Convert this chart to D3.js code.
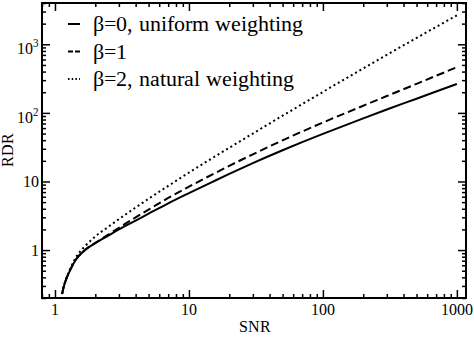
<!DOCTYPE html>
<html>
<head>
<meta charset="utf-8">
<script src="https://cdn.jsdelivr.net/npm/d3@7"></script>
<style>
  @font-face {
    font-family: "PlotSerif";
    src: local("Liberation Serif"), local("LiberationSerif"), local("Liberation Serif Regular"),
         local("LiberationSerif-Regular"), local("Times New Roman");
  }
  body { margin: 0; }
  svg text { font-family: "PlotSerif", "Liberation Serif", "Times New Roman" !important; }
</style>
</head>
<body>
<script>
// values
const snr = [1.13, 1.15, 1.2, 1.3, 1.4, 1.5, 1.7, 2, 2.5, 3, 4, 5, 7, 10, 15, 20, 30, 50, 70, 100, 200, 300, 500, 700, 1000];
const rdrUniform = [0.229, 0.269, 0.355, 0.513, 0.676, 0.813, 1.02, 1.26, 1.62, 2.0, 2.69, 3.39, 4.79, 6.76, 9.89, 12.9, 18.5, 28.5, 37.4, 49.4, 83.2, 112, 161, 205, 264];
const rdrBeta1 = [0.229, 0.269, 0.355, 0.513, 0.676, 0.813, 1.03, 1.27, 1.68, 2.11, 2.99, 3.89, 5.75, 8.41, 12.7, 16.9, 24.9, 39.8, 53.5, 72.3, 127, 176, 265, 348, 463];
const rdrNatural = [0.229, 0.272, 0.363, 0.537, 0.724, 0.891, 1.17, 1.58, 2.18, 2.82, 4.17, 5.60, 8.61, 13.5, 22.0, 31.0, 50.0, 91.0, 134, 202, 446, 702, 1236, 1791, 2642];

const seriesNames = ["\u03b2=0, uniform weighting", "\u03b2=1", "\u03b2=2, natural weighting"];
const xMajor = [1, 10, 100, 1000];
const xTickLabels = ["1", "10", "100", "1000"];
const yMajor = [1, 10, 100, 1000];
const yTickLabels = [["1", ""], ["10", ""], ["10", "2"], ["10", "3"]];

const W = 474, H = 339;
const margin = { top: 3, right: 8, bottom: 41, left: 42 };
const width = W - margin.left - margin.right;
const height = H - margin.top - margin.bottom;

const svg = d3.select("body").append("svg")
  .attr("width", W).attr("height", H)
  .attr("font-family", "Liberation Serif");
const g = svg.append("g")
  .attr("transform", "translate(" + margin.left + "," + margin.top + ")");

const x = d3.scaleLog().domain([0.8, 1170]).range([0, width]);
const y = d3.scaleLog().domain([0.2, 4000]).range([height, 0]);

const xMinor = x.ticks().filter(v => !xMajor.includes(v));
const yMinor = y.ticks().filter(v => !yMajor.includes(v));

function styleAxis(sel) {
  sel.select(".domain").remove();
  sel.selectAll("line").attr("stroke", "#000").attr("stroke-width", 1.5);
  sel.selectAll("text").remove();
}

// ticks on all four sides, pointing inward
g.append("g").attr("transform", "translate(0," + height + ")")
  .call(d3.axisBottom(x).tickValues(xMajor).tickSize(-8)).call(styleAxis);
g.append("g").attr("transform", "translate(0," + height + ")")
  .call(d3.axisBottom(x).tickValues(xMinor).tickSize(-4)).call(styleAxis);
g.append("g")
  .call(d3.axisTop(x).tickValues(xMajor).tickSize(-8)).call(styleAxis);
g.append("g")
  .call(d3.axisTop(x).tickValues(xMinor).tickSize(-4)).call(styleAxis);
g.append("g")
  .call(d3.axisLeft(y).tickValues(yMajor).tickSize(-8)).call(styleAxis);
g.append("g")
  .call(d3.axisLeft(y).tickValues(yMinor).tickSize(-4)).call(styleAxis);
g.append("g").attr("transform", "translate(" + width + ",0)")
  .call(d3.axisRight(y).tickValues(yMajor).tickSize(-8)).call(styleAxis);
g.append("g").attr("transform", "translate(" + width + ",0)")
  .call(d3.axisRight(y).tickValues(yMinor).tickSize(-4)).call(styleAxis);

// frame
g.append("rect")
  .attr("width", width).attr("height", height)
  .attr("fill", "none").attr("stroke", "#000").attr("stroke-width", 2);

// x tick labels
g.selectAll(".xlab").data(xMajor).enter().append("text")
  .attr("x", d => x(d)).attr("y", height + 17)
  .attr("text-anchor", "middle")
  .attr("font-size", 16)
  .text((d, i) => xTickLabels[i]);

// y tick labels (with superscripts)
yMajor.forEach((v, i) => {
  const lab = yTickLabels[i];
  const t = g.append("text")
    .attr("x", -3).attr("text-anchor", "end")
    .attr("font-size", 16);
  if (lab[1] === "") {
    t.attr("y", y(v) + 6).text(lab[0]);
  } else {
    t.attr("y", y(v) + 10);
    t.append("tspan").text(lab[0]);
    t.append("tspan").attr("dy", -7).attr("font-size", 11).text(lab[1]);
  }
});

// axis titles
g.append("text")
  .attr("x", x(31)).attr("y", height + 34)
  .attr("text-anchor", "middle")
  .attr("font-size", 16)
  .text("SNR");
svg.append("text")
  .attr("transform", "rotate(-90)")
  .attr("x", -150).attr("y", 13)
  .attr("text-anchor", "middle")
  .attr("font-size", 16)
  .text("RDR");

// curves
const series = [rdrUniform, rdrBeta1, rdrNatural];
const dashes = [null, "8,4", "2,3"];
const line = d3.line()
  .x(d => x(d[0])).y(d => y(d[1]))
  .curve(d3.curveMonotoneX);

series.forEach((vals, i) => {
  g.append("path")
    .datum(snr.map((s, j) => [s, vals[j]]))
    .attr("d", line)
    .attr("fill", "none")
    .attr("stroke", "#000")
    .attr("stroke-width", 2)
    .attr("stroke-dasharray", dashes[i]);
});

// legend
const legend = g.append("g").attr("transform", "translate(26,21)");
seriesNames.forEach((name, i) => {
  const row = legend.append("g").attr("transform", "translate(0," + (i * 27.5) + ")");
  row.append("line")
    .attr("x1", 0).attr("x2", 12).attr("y1", 0).attr("y2", 0)
    .attr("stroke", "#000").attr("stroke-width", 2)
    .attr("stroke-dasharray", i === 1 ? "5,2" : (i === 2 ? "1.5,2.2" : null));
  row.append("text")
    .attr("x", 25).attr("y", 7)
    .attr("font-size", 21.7)
    .text(name);
});
</script>
</body>
</html>
